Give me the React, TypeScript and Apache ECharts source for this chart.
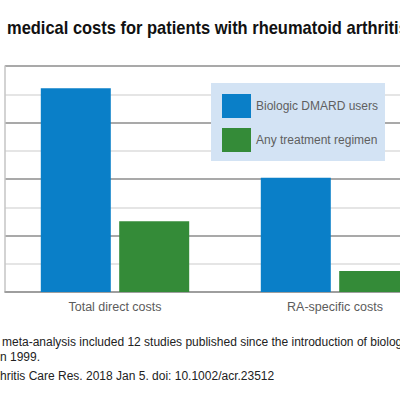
import React, { useEffect, useRef } from "react";
import * as echarts from "echarts";

const categories = ["Total direct costs", "RA-specific costs"];
const biologicUsers = [36053, 20212];
const anyTreatment = [12509, 3723];
const seriesNames = ["Biologic DMARD users", "Any treatment regimen"];
const titleText = "medical costs for patients with rheumatoid arthritis";
const noteLines = [
  "meta-analysis included 12 studies published since the introduction of biologic DMARDs",
  "n 1999.",
  "hritis Care Res. 2018 Jan 5. doi: 10.1002/acr.23512",
];

const SANS = '"Liberation Sans", Arial, sans-serif';

export default function App() {
  const ref = useRef<HTMLDivElement>(null);
  useEffect(() => {
    if (!ref.current) return;
    const chart = echarts.init(ref.current, undefined, { renderer: "svg" });
    chart.setOption({
      animation: false,
      backgroundColor: "#ffffff",
      grid: { left: 5, top: 66, right: 15, height: 226, containLabel: false },
      xAxis: {
        type: "category",
        data: categories,
        axisLine: { show: true, lineStyle: { color: "#9a9a9a", width: 1.5 } },
        axisTick: { show: false },
        axisLabel: { color: "#5c5c5c", fontSize: 12.5, fontFamily: SANS, margin: 8 },
      },
      yAxis: {
        type: "value",
        min: 0,
        max: 40000,
        interval: 5000,
        axisLabel: { show: false },
        axisTick: { show: false },
        axisLine: { show: true, lineStyle: { color: "#c4c4c4", width: 1.5 } },
        splitLine: { show: true, lineStyle: { color: ["#8c8c8c", "#dcdcdc"], width: 1.5 } },
      },
      legend: {
        orient: "vertical",
        left: 222,
        top: 94,
        itemWidth: 29,
        itemHeight: 24,
        itemGap: 10,
        padding: 0,
        icon: "rect",
        data: seriesNames,
        textStyle: { color: "#5f5f5f", fontSize: 12, fontFamily: SANS },
        z: 10,
      },
      graphic: [
        {
          type: "rect",
          z: 5,
          shape: { x: 211, y: 83, width: 174, height: 78 },
          style: { fill: "#d3e3f4" },
        },
        {
          type: "text",
          x: 7,
          y: 28,
          scaleX: 0.915,
          style: {
            text: titleText,
            fill: "#111111",
            font: `bold 18px ${SANS}`,
            textVerticalAlign: "middle",
          },
        },
        ...noteLines.map((t, i) => ({
          type: "text",
          x: i === 0 ? 2 : 0,
          y: [342, 357, 376][i],
          style: {
            text: t,
            fill: "#222222",
            font: `12px ${SANS}`,
            textVerticalAlign: "middle",
          },
        })),
      ],
      series: [
        {
          name: seriesNames[0],
          type: "bar",
          data: biologicUsers,
          barWidth: 70,
          barGap: "12%",
          itemStyle: { color: "#0a7fc8" },
        },
        {
          name: seriesNames[1],
          type: "bar",
          data: anyTreatment,
          barWidth: 70,
          itemStyle: { color: "#348b38" },
        },
      ],
    });
    return () => chart.dispose();
  }, []);
  return (
    <div
      style={{
        position: "fixed",
        left: 0,
        top: 0,
        width: 400,
        height: 400,
        overflow: "hidden",
        background: "#ffffff",
      }}
    >
      <div ref={ref} style={{ width: 460, height: 400 }} />
    </div>
  );
}
